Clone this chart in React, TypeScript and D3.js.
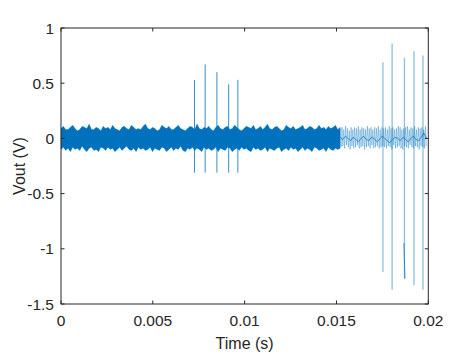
import React from "react";
import * as d3 from "d3";

// ---- data ----
const xTicks = [0, 0.005, 0.01, 0.015, 0.02];
const xTickLabels = ["0", "0.005", "0.01", "0.015", "0.02"];
const yTicks = [1, 0.5, 0, -0.5, -1, -1.5];
const yTickLabels = ["1", "0.5", "0", "-0.5", "-1", "-1.5"];

// dense noise band (0 – 0.0152 s): upper / lower envelope of the trace
const denseEnd = 0.0152;
const denseUpper = [
  0.09,0.11,0.08,0.08,0.10,0.12,0.09,0.07,0.08,0.11,0.10,0.09,0.13,0.08,0.08,0.10,0.09,0.07,0.11,0.09,
  0.10,0.08,0.12,0.09,0.08,0.07,0.10,0.11,0.09,0.08,0.12,0.10,0.08,0.09,0.08,0.11,0.13,0.09,0.08,0.10,
  0.09,0.07,0.08,0.12,0.10,0.09,0.11,0.08,0.08,0.10,0.12,0.09,0.08,0.07,0.09,0.11,0.10,0.08,0.13,0.09,
  0.08,0.10,0.09,0.11,0.08,0.07,0.10,0.12,0.09,0.08,0.10,0.11,0.08,0.09,0.12,0.10,0.08,0.07,0.09,0.11,
  0.10,0.09,0.12,0.08,0.09,0.11,0.08,0.10,0.13,0.09,0.08,0.10,0.11,0.09,0.07,0.08,0.12,0.10,0.09,0.11,
  0.08,0.09,0.10,0.12,0.08,0.09,0.11,0.10,0.08,0.09,0.12,0.09,0.10,0.08,0.11,0.09,0.10,0.12,0.08,0.10,
];
const denseLower = [
  -0.10,-0.08,-0.11,-0.09,-0.12,-0.08,-0.10,-0.09,-0.11,-0.07,-0.10,-0.12,-0.09,-0.08,-0.11,-0.10,-0.12,-0.08,-0.09,-0.11,
  -0.08,-0.10,-0.09,-0.12,-0.10,-0.08,-0.11,-0.09,-0.07,-0.10,-0.11,-0.09,-0.12,-0.08,-0.10,-0.09,-0.11,-0.10,-0.08,-0.12,
  -0.09,-0.10,-0.11,-0.08,-0.09,-0.12,-0.10,-0.08,-0.11,-0.09,-0.10,-0.07,-0.11,-0.12,-0.09,-0.10,-0.08,-0.11,-0.09,-0.10,
  -0.12,-0.08,-0.10,-0.09,-0.11,-0.10,-0.08,-0.12,-0.09,-0.10,-0.11,-0.08,-0.09,-0.12,-0.10,-0.09,-0.11,-0.08,-0.10,-0.09,
  -0.11,-0.12,-0.08,-0.10,-0.09,-0.11,-0.10,-0.08,-0.12,-0.09,-0.10,-0.11,-0.09,-0.08,-0.12,-0.10,-0.09,-0.11,-0.08,-0.10,
  -0.09,-0.12,-0.10,-0.08,-0.11,-0.09,-0.10,-0.12,-0.08,-0.09,-0.11,-0.10,-0.09,-0.12,-0.08,-0.10,-0.11,-0.09,-0.10,-0.09,
];

// sparse oscillation (0.0152 – 0.0199 s)
const sparseStart = 0.0152;
const sparseEnd = 0.0199;
const sparseValues = [
  0.09,-0.08,0.10,-0.07,0.08,-0.09,0.11,-0.06,0.09,-0.08,0.07,-0.10,0.10,-0.07,0.08,-0.09,0.10,-0.08,0.09,-0.06,
  0.11,-0.09,0.08,-0.08,0.10,-0.07,0.09,-0.10,0.08,-0.08,0.11,-0.07,0.09,-0.09,0.10,-0.06,0.08,-0.09,0.10,-0.08,
  0.09,-0.07,0.11,-0.09,0.08,-0.08,0.10,-0.07,0.09,-0.08,0.10,-0.09,0.08,-0.07,0.11,-0.08,0.09,-0.10,0.10,-0.06,
  0.08,-0.09,0.09,-0.08,0.11,-0.07,0.10,-0.09,0.08,-0.10,0.09,-0.07,0.10,-0.08,0.11,-0.09,0.08,-0.06,0.10,-0.08,
  0.09,-0.09,0.11,-0.07,0.08,-0.08,0.10,-0.10,0.09,-0.07,0.10,-0.08,0.08,-0.09,0.11,-0.07,
];
// darker mid-level wander within the sparse section
const midValues = [0.01,-0.01,0.02,0.0,-0.02,0.01,-0.01,-0.03,0.0,0.02,-0.01,-0.02,0.01,0.0,-0.03,-0.01,0.02,0.0,-0.02,-0.04,-0.01,0.01,0.0,-0.02,0.01,-0.01,-0.03,0.0,0.02,-0.01,-0.02,0.01,0.05,0.0];

// spike groups
const spikeTimes1 = [0.00727, 0.00785, 0.00849, 0.00913, 0.00963];
const spikeHigh1 = [0.53, 0.67, 0.60, 0.49, 0.53];
const spikeLow1 = [-0.31, -0.31, -0.31, -0.31, -0.31];
const spikeTimes2 = [0.01753, 0.01803, 0.01870, 0.01922, 0.01971];
const spikeHigh2 = [0.69, 0.86, 0.73, 0.79, 0.75];
const spikeLow2 = [-1.21, -1.37, -1.27, -1.33, -1.37];

const W = 474, H = 355;
const L = 61, R = 428.3, T = 28, B = 304;
const BLUE = "#0072BD";
const INK = "#262626";
const FONT = "'Liberation Sans', Arial, sans-serif";

export default function App() {
  const x = d3.scaleLinear().domain([0, 0.02]).range([L, R]);
  const y = d3.scaleLinear().domain([-1.5, 1]).range([B, T]);

  const n = Math.min(denseUpper.length, denseLower.length);
  const denseData = denseUpper.slice(0, n).map((u, i) => ({
    t: (i / (n - 1)) * denseEnd,
    u,
    l: denseLower[i],
  }));
  const area = d3
    .area<{ t: number; u: number; l: number }>()
    .x((d) => x(d.t))
    .y0((d) => y(d.l))
    .y1((d) => y(d.u))
    .curve(d3.curveLinear);

  const line = d3
    .line<[number, number]>()
    .x((d) => x(d[0]))
    .y((d) => y(d[1]));

  const sparsePts: [number, number][] = sparseValues.map((v, i) => [
    sparseStart + (i / (sparseValues.length - 1)) * (sparseEnd - sparseStart),
    v,
  ]);
  const midPts: [number, number][] = midValues.map((v, i) => [
    sparseStart + (i / (midValues.length - 1)) * (sparseEnd - sparseStart),
    v,
  ]);

  return (
    <svg
      width={W}
      height={H}
      style={{ position: "absolute", left: 0, top: 0, background: "#fff" }}
      fontFamily={FONT}
    >
      <rect x={0} y={0} width={W} height={H} fill="#fff" />
      {/* dense noise */}
      <path d={area(denseData) ?? ""} fill={BLUE} stroke={BLUE} strokeWidth={0.5} strokeOpacity={0.6} />
      {/* sparse oscillation */}
      <path
        d={line(sparsePts) ?? ""}
        fill="none"
        stroke={BLUE}
        strokeWidth={0.8}
        strokeOpacity={0.45}
      />
      <path
        d={line(midPts) ?? ""}
        fill="none"
        stroke={BLUE}
        strokeWidth={0.8}
        strokeOpacity={0.9}
      />
      {/* spikes group 1 */}
      {spikeTimes1.map((t, i) => (
        <line
          key={"s1" + i}
          x1={x(t)}
          x2={x(t)}
          y1={y(spikeHigh1[i])}
          y2={y(spikeLow1[i])}
          stroke={BLUE}
          strokeWidth={1}
          strokeOpacity={0.8}
        />
      ))}
      {/* spikes group 2 */}
      {spikeTimes2.map((t, i) => (
        <line
          key={"s2" + i}
          x1={x(t)}
          x2={x(t)}
          y1={y(spikeHigh2[i])}
          y2={y(spikeLow2[i])}
          stroke={BLUE}
          strokeWidth={1.3}
          strokeOpacity={0.45}
        />
      ))}
      <line
        x1={x(spikeTimes2[2] - 0.00003)}
        x2={x(spikeTimes2[2] + 0.00003)}
        y1={y(-0.95)}
        y2={y(spikeLow2[2])}
        stroke={BLUE}
        strokeWidth={1}
        strokeOpacity={0.7}
      />

      {/* box */}
      <rect
        x={L}
        y={T}
        width={R - L}
        height={B - T}
        fill="none"
        stroke={INK}
        strokeWidth={1}
      />
      {/* x ticks */}
      {xTicks.map((v, i) => (
        <g key={"xt" + i}>
          <line x1={x(v)} x2={x(v)} y1={B} y2={B - 3.5} stroke={INK} />
          <line x1={x(v)} x2={x(v)} y1={T} y2={T + 3.5} stroke={INK} />
          <text
            x={x(v)}
            y={B + 21.5}
            textAnchor="middle"
            fontSize={15.5}
            fill={INK}
          >
            {xTickLabels[i]}
          </text>
        </g>
      ))}
      {/* y ticks */}
      {yTicks.map((v, i) => (
        <g key={"yt" + i}>
          <line x1={L} x2={L + 3.5} y1={y(v)} y2={y(v)} stroke={INK} />
          <line x1={R} x2={R - 3.5} y1={y(v)} y2={y(v)} stroke={INK} />
          <text
            x={L - 7}
            y={y(v) + 5.5}
            textAnchor="end"
            fontSize={15.5}
            fill={INK}
          >
            {yTickLabels[i]}
          </text>
        </g>
      ))}
      <text
        x={(L + R) / 2}
        y={349}
        textAnchor="middle"
        fontSize={16}
        fill={INK}
      >
        Time (s)
      </text>
      <text
        transform={`translate(25,${(T + B) / 2}) rotate(-90)`}
        textAnchor="middle"
        fontSize={16}
        fill={INK}
      >
        Vout (V)
      </text>
    </svg>
  );
}
